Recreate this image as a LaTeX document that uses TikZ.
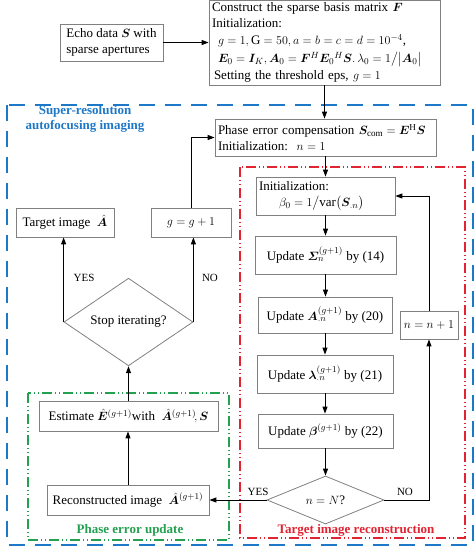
\documentclass[tikz,border=0pt]{standalone}
\usepackage{fontspec}
\setmainfont{Liberation Serif}
\usepackage{amsmath,bm}
\usetikzlibrary{shapes.geometric,arrows.meta}
\definecolor{boxgray}{RGB}{128,128,128}
\definecolor{myblue}{RGB}{30,120,200}
\definecolor{myred}{RGB}{225,35,50}
\definecolor{mygreen}{RGB}{35,160,80}
\begin{document}
\begin{tikzpicture}[x=1pt,y=-1pt,
 every node/.style={font=\fontsize{13}{16}\selectfont},
 box/.style={draw=boxgray,line width=0.8pt,rectangle,inner sep=0pt,align=center},
 dia/.style={draw=boxgray,line width=0.8pt,diamond,inner sep=0pt},
 conn/.style={line width=1pt,-{Triangle[length=7pt,width=5pt]}},
 lab/.style={font=\fontsize{11}{13}\selectfont},
 frametitle/.style={font=\bfseries\fontsize{13}{15}\selectfont,align=center}]
\useasboundingbox (0,0) rectangle (474,550);
% frames
\draw[myblue,line width=2pt,dash pattern=on 16pt off 10pt] (7,105) rectangle (473,545);
\draw[myred,line width=1.3pt,dash pattern=on 10pt off 3pt on 1pt off 3pt on 1pt off 3pt] (240,167) rectangle (465,538);
\draw[mygreen,line width=1.3pt,dash pattern=on 10pt off 3pt on 1pt off 3pt on 1pt off 3pt] (28,393) rectangle (229,540);
\node[frametitle,myblue] (blab) at (85,118.5) {Super-resolution\\autofocusing imaging};
\node[frametitle,mygreen] (glab) at (130,530) {Phase error update};
\node[frametitle,myred] (rlab) at (356,530) {Target image reconstruction};
% boxes
\node[box,fill=white,minimum width=103pt,minimum height=37pt,align=left] (echo) at (111.5,42.5) {Echo data $\bm S$ with\\sparse apertures};
\node[box,fill=white,minimum width=231pt,minimum height=85pt,align=left,text width=225pt] (cons) at (324.5,42.5)
 {Construct the sparse basis matrix $\bm F$\\
  Initialization:\\[1pt]
  \hspace*{6pt}$g=1,\mathrm{G}=50,a=b=c=d=10^{-4}$,\\[2pt]
  \hspace*{6pt}$\bm E_0=\bm I_K,\bm A_0=\bm F^H\bm E_0{}^H\bm S.\,\lambda_0=1\big/\big|\bm A_0\big|$\\[1pt]
  \hspace*{2pt}Setting the threshold\ eps, $g=1$};
\node[box,fill=white,minimum width=221pt,minimum height=37pt,align=left,text width=215pt] (phase) at (325.5,137.5)
 {Phase error compensation $\bm S_{\mathrm{com}}=\bm E^{\mathrm H}\bm S$\\Initialization:\ \ $n=1$};
\node[box,fill=white,minimum width=139pt,minimum height=38pt,align=left,text width=133pt] (init) at (325.5,196)
 {Initialization:\\\hspace*{20pt}$\beta_0=1\big/\mathrm{var}\big(\bm S_{.n}\big)$};
\node[box,fill=white,minimum width=141pt,minimum height=38pt] (sig) at (325.5,255) {Update $\bm{\varSigma}_n^{(g+1)}$ by (14)};
\node[box,fill=white,minimum width=134pt,minimum height=36pt] (aup) at (325,315) {Update $\bm A_{.n}^{(g+1)}$ by (20)};
\node[box,fill=white,minimum width=136pt,minimum height=38pt] (lam) at (325,374) {Update $\bm\lambda_{.n}^{(g+1)}$ by (21)};
\node[box,fill=white,minimum width=135pt,minimum height=34pt] (bet) at (325.5,431) {Update $\bm{\beta}^{(g+1)}$ by (22)};
\node[dia,fill=white,minimum width=117pt,minimum height=44pt] (nN) at (325.5,500) {$n=N$?};
\node[box,fill=white,minimum width=58pt,minimum height=28pt] (n1) at (429,325) {$n=n+1$};
\node[box,fill=white,minimum width=162pt,minimum height=30pt] (rec) at (128,500) {Reconstructed image\ \ $\hat{\bm A}^{(g+1)}$};
\node[box,fill=white,minimum width=179pt,minimum height=30pt] (est) at (128.5,416) {Estimate $\hat{\bm E}^{(g+1)}$with\ \ $\hat{\bm A}^{(g+1)}\!,\bm S$};
\node[dia,fill=white,minimum width=129pt,minimum height=58pt] (stop) at (128.5,322) {Stop iterating?};
\node[box,fill=white,minimum width=98pt,minimum height=29pt] (tgt) at (65,222.5) {Target image\ \ $\hat{\bm A}$};
\node[box,fill=white,minimum width=80pt,minimum height=29pt] (gg) at (191,222.5) {$g=g+1$};
% connectors
\draw[conn] (echo.east) -- (cons.west);
\draw[conn] (cons.south) -- (cons.south |- phase.north);
\draw[conn] (phase.south) -- (phase.south |- init.north);
\draw[conn] (init.south) -- (init.south |- sig.north);
\draw[conn] (sig.south) -- (sig.south |- aup.north);
\draw[conn] (aup.south) -- (aup.south |- lam.north);
\draw[conn] (lam.south) -- (lam.south |- bet.north);
\draw[conn] (bet.south) -- (bet.south |- nN.north);
\draw[conn] (nN.east) -| (n1.south);
\draw[conn] (n1.north) |- (init.east);
\draw[conn] (nN.west) -- (rec.east);
\draw[conn] (rec.north) -- (rec.north |- est.south);
\draw[conn] (est.north) -- (est.north |- stop.south);
\draw[conn] (stop.west) -- (stop.west |- tgt.south);
\draw[conn] (stop.east) -- (stop.east |- gg.south);
\draw[conn] (gg.north) |- (phase.west);
% labels
\node[lab] (y1) at (84,278) {YES};
\node[lab] (n1l) at (210,278) {NO};
\node[lab] (y2) at (258,492) {YES};
\node[lab] (n2l) at (405,492) {NO};
\end{tikzpicture}
\end{document}
